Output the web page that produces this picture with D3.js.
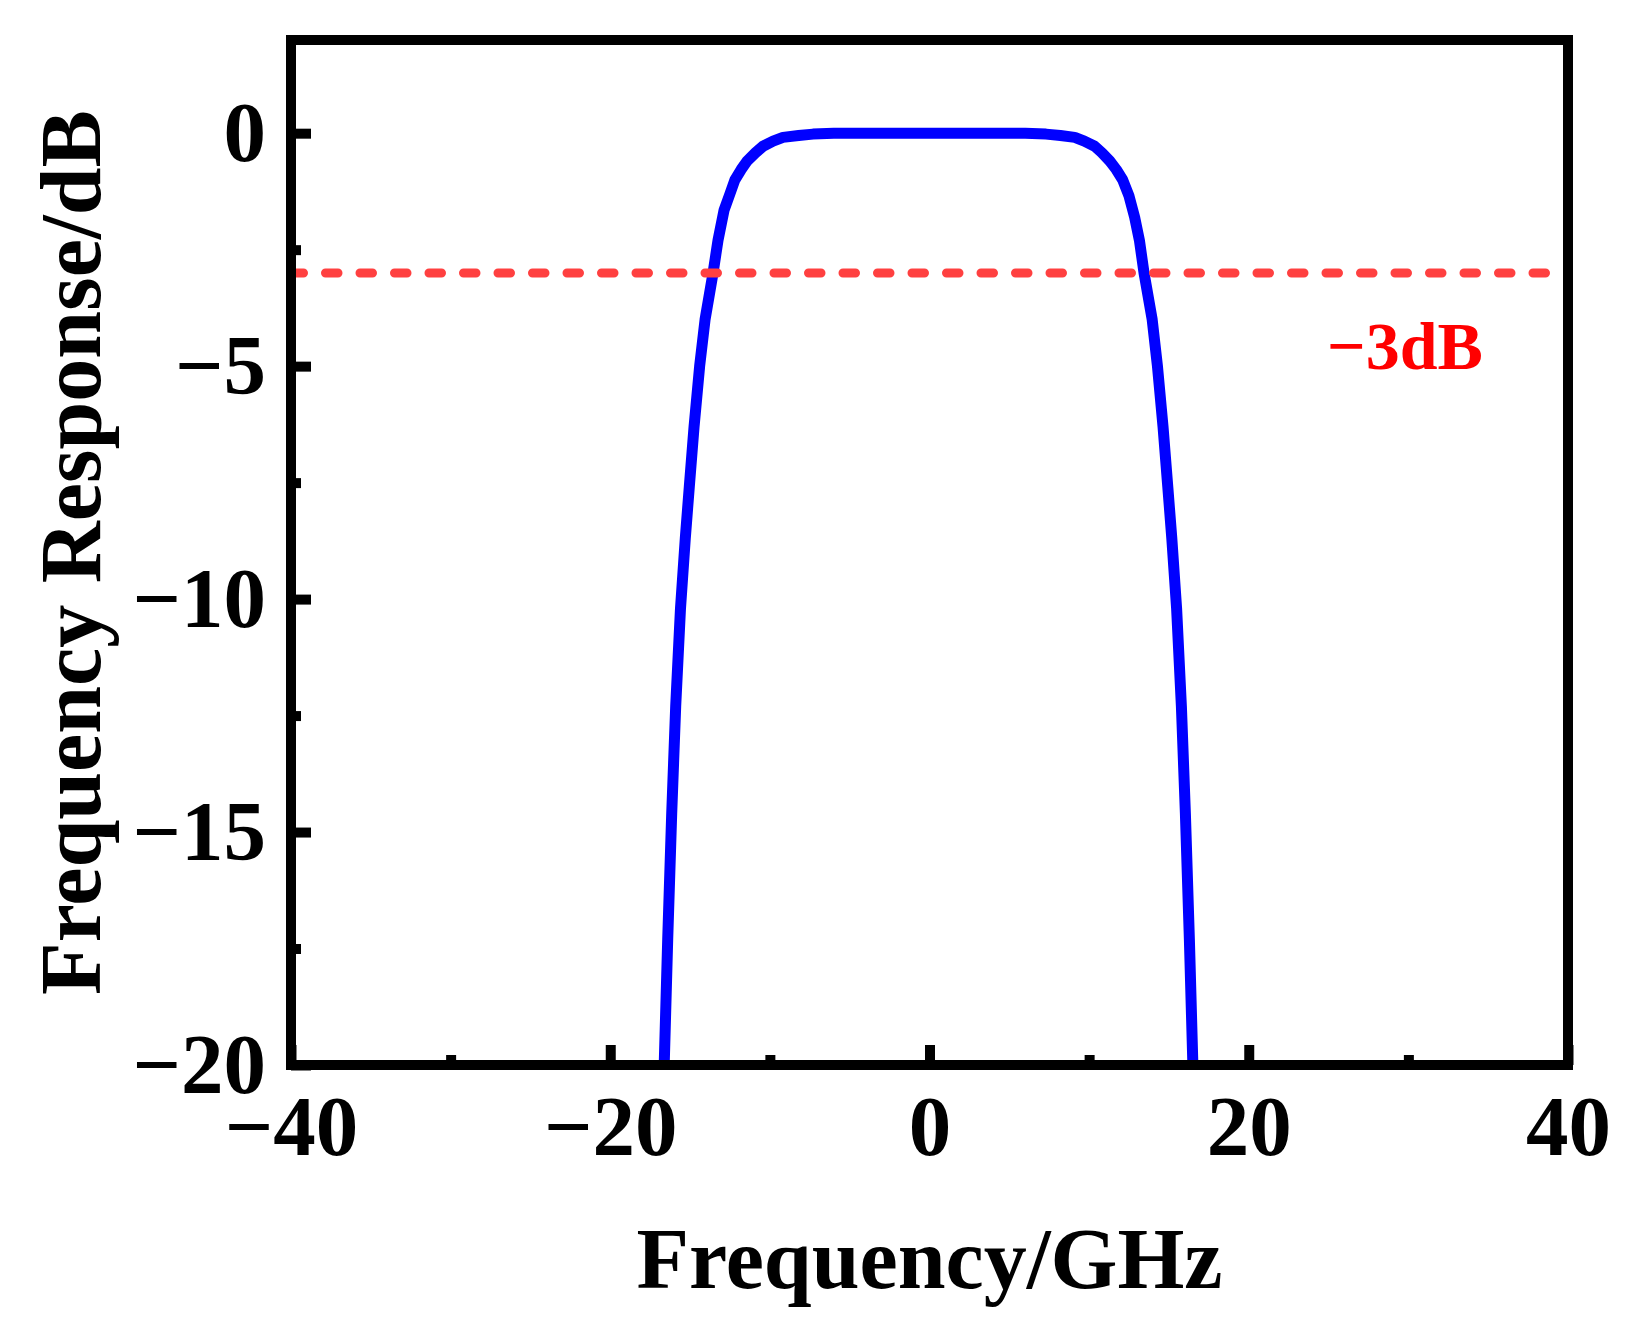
<!DOCTYPE html>
<html>
<head>
<meta charset="utf-8">
<script src="https://d3js.org/d3.v7.min.js"></script>
<style>
  body { margin: 0; background: #fff; }
  text { font-family: "Liberation Serif", "Times New Roman", serif; font-weight: bold; }
</style>
</head>
<body>
<svg id="chart" width="1647" height="1335"></svg>
<script>
// frequency response
const freqGHz = [-16.62, -16.4, -16.15, -15.9, -15.6, -15.3, -15.05, -14.75, -14.4, -14.06, -13.56,
  -13.25, -12.87, -12.5, -12.19, -11.8, -11.43, -10.9, -10.43, -9.8, -9.18, -8.2, -7.3, -6, -4, -2, 0, 2, 4, 6,
  7.3, 8.2, 9.1, 9.7, 10.35, 10.8, 11.3, 11.7, 12.1, 12.5, 12.85, 13.15, 13.44,
  13.95, 14.28, 14.63, 14.93, 15.18, 15.48, 15.78, 16.03, 16.28, 16.5];
const responseDb = [-20, -17.3, -14.6, -12.3, -10.2, -8.7, -7.6, -6.3, -5.0, -4.0, -3.0,
  -2.3, -1.65, -1.3, -1.0, -0.78, -0.6, -0.42, -0.28, -0.17, -0.09, -0.05, -0.02, 0, 0, 0, 0, 0, 0, 0,
  -0.02, -0.05, -0.09, -0.17, -0.28, -0.42, -0.6, -0.78, -1.0, -1.35, -1.8, -2.3, -3.0,
  -4.0, -5.0, -6.3, -7.6, -8.7, -10.2, -12.3, -14.6, -17.3, -20];
const refLevelDb = -3;
const refLabel = "\u22123dB";
const xMajor = [-40, -20, 0, 20, 40];
const xMinor = [-30, -10, 10, 30];
const yMajor = [0, -5, -10, -15, -20];
const yMinor = [-2.5, -7.5, -12.5, -17.5];

const svg = d3.select('#chart');
const pLeft = 291, pRight = 1568, pTop = 40, pBottom = 1065;

const x = d3.scaleLinear().domain([-40, 40]).range([pLeft, pRight]);
const y = d3.scaleLinear().domain([-20, 2]).range([pBottom, pTop]);
const fmt = d => String(d).replace('-', '\u2212');

svg.append('clipPath').attr('id', 'plot')
  .append('rect').attr('x', pLeft).attr('y', pTop)
  .attr('width', pRight - pLeft).attr('height', pBottom - pTop);

const pts = freqGHz.map((f, i) => [x(f), y(responseDb[i])]);
svg.append('path')
  .attr('clip-path', 'url(#plot)')
  .attr('d', d3.line()(pts))
  .attr('fill', 'none')
  .attr('stroke', '#0000ff')
  .attr('stroke-width', 11)
  .attr('stroke-linejoin', 'round');

svg.append('line')
  .attr('clip-path', 'url(#plot)')
  .attr('x1', x(-40)).attr('x2', x(40))
  .attr('y1', y(refLevelDb)).attr('y2', y(refLevelDb))
  .attr('stroke', '#ff4040')
  .attr('stroke-width', 9)
  .attr('stroke-linecap', 'round')
  .attr('stroke-dasharray', '12.5,22');

svg.append('text')
  .attr('x', 1327).attr('y', 369)
  .attr('fill', '#ff0000')
  .style('font-size', '68px')
  .text(refLabel);

// axes: ticks point inward
const xAxis = svg.append('g')
  .attr('transform', `translate(0,${pBottom})`)
  .call(d3.axisBottom(x).tickValues(xMajor).tickFormat(fmt).tickSizeInner(-20).tickSizeOuter(0));
const yAxis = svg.append('g')
  .attr('transform', `translate(${pLeft},0)`)
  .call(d3.axisLeft(y).tickValues(yMajor).tickFormat(fmt).tickSizeInner(-20).tickSizeOuter(0));

svg.append('g')
  .attr('transform', `translate(0,${pBottom})`)
  .call(d3.axisBottom(x).tickValues(xMinor).tickFormat('').tickSizeInner(-10).tickSizeOuter(0));
svg.append('g')
  .attr('transform', `translate(${pLeft},0)`)
  .call(d3.axisLeft(y).tickValues(yMinor).tickFormat('').tickSizeInner(-10).tickSizeOuter(0));

svg.selectAll('.domain').remove();
svg.selectAll('.tick line').attr('stroke', '#000').attr('stroke-width', 10);

xAxis.selectAll('text')
  .attr('y', 90).attr('dy', null)
  .attr('fill', '#000')
  .style('font-size', '85px');
yAxis.selectAll('text')
  .attr('x', -25).attr('dy', '0.32em')
  .attr('fill', '#000')
  .style('font-size', '85px');

svg.append('rect')
  .attr('x', pLeft).attr('y', pTop)
  .attr('width', pRight - pLeft).attr('height', pBottom - pTop)
  .attr('fill', 'none')
  .attr('stroke', '#000')
  .attr('stroke-width', 10);

svg.append('text')
  .attr('x', (pLeft + pRight) / 2).attr('y', 1288)
  .attr('text-anchor', 'middle')
  .style('font-size', '86px')
  .text('Frequency/GHz');

svg.append('text')
  .attr('transform', `translate(100,${(pTop + pBottom) / 2}) rotate(-90)`)
  .attr('text-anchor', 'middle')
  .style('font-size', '86px')
  .text('Frequency Response/dB');
</script>
</body>
</html>
